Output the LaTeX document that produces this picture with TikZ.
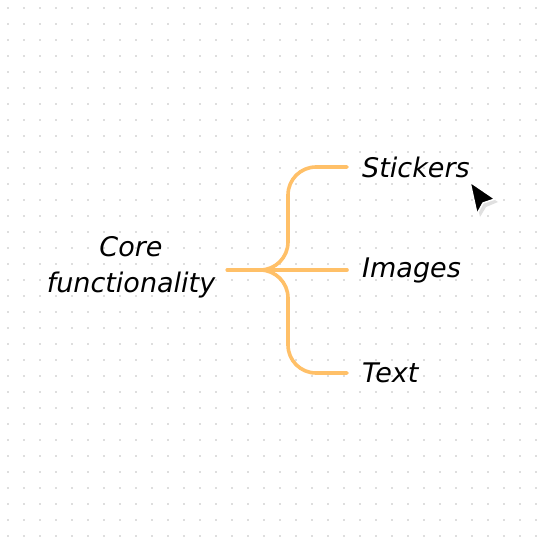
\documentclass[tikz,border=0pt]{standalone}
\usepackage{fontspec}
\setmainfont{DejaVu Sans}
\begin{document}
\begin{tikzpicture}[x=1pt,y=-1pt]
		\tikzstyle{dot} = [fill=black!13, draw=none]
		\tikzstyle{line} = [draw, line width=3.6pt, line cap=round, color={rgb,255:red,255;green,192;blue,104}]
		\tikzstyle{label} = [font=\itshape\fontsize{27}{36}\selectfont, text=black, inner sep=0]
		\tikzstyle{leaf} = [label, anchor=west, inner xsep=15pt]
		\useasboundingbox[fill=white] (0,0) rectangle (540,540);
		\foreach \x in {8,24,...,536}
		{
			\foreach \y in {8,24,...,536}
			{
				\fill[dot] (\x-1,\y-1) rectangle (\x+1,\y+1);
			}
		}
		\node [label, text width=192pt, align=center] (v1) at (131,267) {Core\\functionality};
		\node [leaf] (v2) at (347,167) {Stickers};
		\node [leaf] (v3) at (347,270) {Images};
		\node [leaf] (v4) at (347,373) {Text};
		\coordinate (j) at (260,270);
		\draw [line] (v1.east |- j) -- (j) -- (v3.west);
		\draw [line, rounded corners=28pt] (j) -- (288,270) -- (288,167) -- (v2.west);
		\draw [line, rounded corners=28pt] (j) -- (288,270) -- (288,373) -- (v4.west);
		% cursor
		\fill [black!12] (473,186) -- (480,217) -- (486,207) -- (498,202) -- cycle;
		\draw [fill=black, draw=white, line width=1.5pt, line join=round] (470,182) -- (477,214) -- (483,203) -- (495,199) -- cycle;
\end{tikzpicture}
\end{document}
